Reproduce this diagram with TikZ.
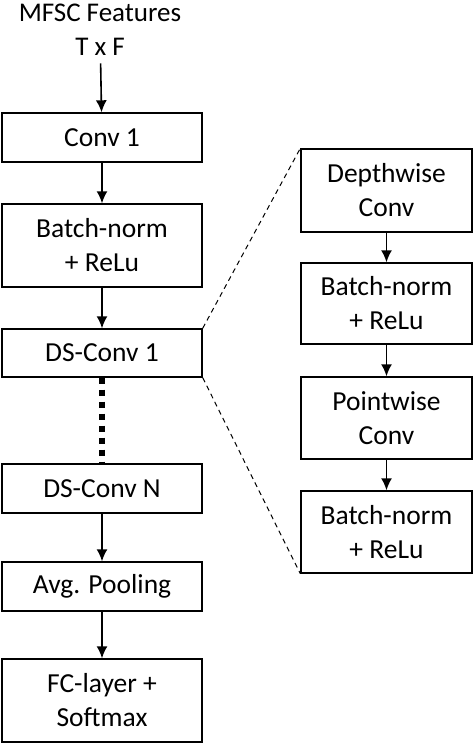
\documentclass[tikz,border=0pt]{standalone}
\usepackage{fontspec}
\setmainfont{Carlito}
\usetikzlibrary{arrows.meta}
\begin{document}
\begin{tikzpicture}[x=1pt,y=-1pt]

% arrow tip and box styles
\tikzset{>={Latex[length=12pt,width=11pt]}}
\def\lw{200pt}
\def\rw{171pt}
\tikzstyle{block} = [
	draw, line width=1.4pt, rectangle, align=center,
	font=\fontsize{27.5}{34}\selectfont, inner sep=0pt ];
\tikzstyle{plain} = [draw=none,fill=none];
\tikzstyle{flow} = [->, line width=1.6pt];
\tikzstyle{zoomline} = [line width=1pt, dash pattern=on 5pt off 4pt];

\useasboundingbox (0,0) rectangle (474,743);

% main column
\node[plain,align=center,font=\fontsize{27}{34}\selectfont] (in) at (100,30) {MFSC Features\\T x F};
\node[block,minimum width=\lw,minimum height=49pt] (c1) at (102,137.5) {Conv 1};
\node[block,minimum width=\lw,minimum height=83pt] (bn) at (102,245.5) {Batch-norm\\+ ReLu};
\node[block,minimum width=\lw,minimum height=48pt] (ds1) at (102,353) {DS-Conv 1};
\node[block,minimum width=\lw,minimum height=49pt] (dsn) at (102,488.5) {DS-Conv N};
\node[block,minimum width=\lw,minimum height=49pt] (pool) at (102,586.5) {Avg. Pooling};
\node[block,minimum width=\lw,minimum height=83pt] (fc) at (102,700.5) {FC-layer +\\Softmax};

% zoomed DS-Conv block
\node[block,minimum width=\rw,minimum height=83pt] (dw) at (386.5,190.5) {Depthwise\\Conv};
\node[block,minimum width=\rw,minimum height=81pt] (bn1) at (386.5,303.5) {Batch-norm\\+ ReLu};
\node[block,minimum width=\rw,minimum height=82pt] (pw) at (386.5,418) {Pointwise\\Conv};
\node[block,minimum width=\rw,minimum height=82pt] (bn2) at (386.5,532) {Batch-norm\\+ ReLu};

\draw[flow,shorten <=4pt] (in) -- (c1);
\draw[flow] (c1) -- (bn);
\draw[flow] (bn) -- (ds1);
\draw[line width=6pt, dash pattern=on 6pt off 6pt] (ds1) -- (dsn);
\draw[flow] (dsn) -- (pool);
\draw[flow] (pool) -- (fc);

\draw[flow] (dw) -- (bn1);
\draw[flow] (bn1) -- (pw);
\draw[flow] (pw) -- (bn2);

\draw[zoomline] (ds1.north east) -- (dw.north west);
\draw[zoomline] (ds1.south east) -- (bn2.south west);

\end{tikzpicture}
\end{document}
